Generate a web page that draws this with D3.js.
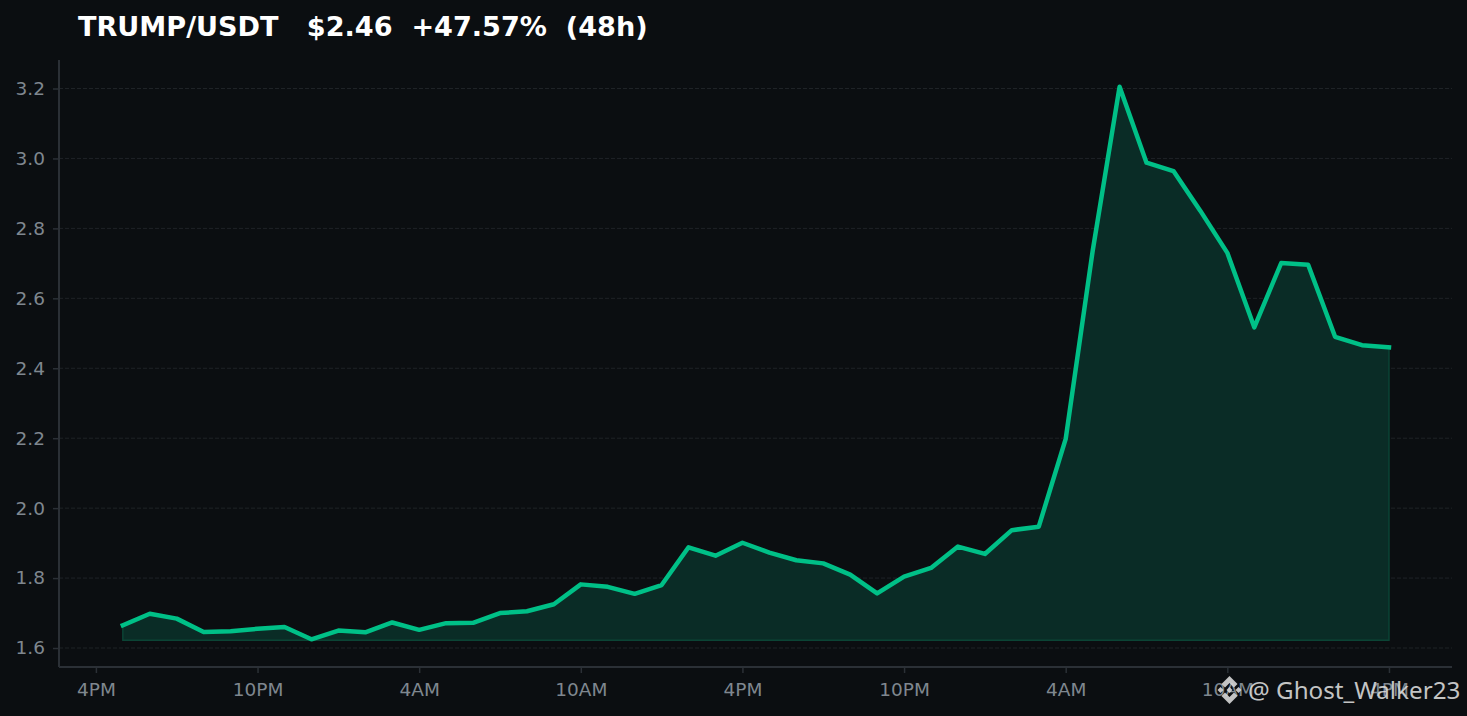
<!DOCTYPE html>
<html>
<head>
<meta charset="utf-8">
<script src="https://cdn.jsdelivr.net/npm/d3@7"></script>
<style>
html, body { margin: 0; padding: 0; background: #0b0e11; overflow: hidden; }
svg { display: block; font-family: "DejaVu Sans", sans-serif; }
</style>
</head>
<body>
<div id="chart"></div>
<script>
const width = 1467;
const height = 716;

const title = "TRUMP/USDT   $2.46  +47.57%  (48h)";
const watermark = "@ Ghost_Walker23";

// hours since the first 4PM tick
const hours = [1,2,3,4,5,6,7,8,9,10,11,12,13,14,15,16,17,18,19,20,21,22,23,24,
    25,26,27,28,29,30,31,32,33,34,35,36,37,38,39,40,41,42,43,44,45,46,47,48];
const prices = [1.665,1.698,1.684,1.646,1.648,1.655,1.660,1.625,1.650,1.645,1.673,1.652,
    1.671,1.672,1.700,1.705,1.725,1.782,1.775,1.755,1.780,1.888,1.864,1.901,
    1.873,1.851,1.842,1.810,1.756,1.804,1.829,1.890,1.869,1.937,1.947,2.198,
    2.735,3.205,2.988,2.964,2.850,2.730,2.517,2.701,2.696,2.490,2.466,2.460];
const baseline = 1.622;

const xTickHours = [0,6,12,18,24,30,36,42,48];
const xTickLabels = ["4PM","10PM","4AM","10AM","4PM","10PM","4AM","10AM","4PM"];
const yTicks = [1.6,1.8,2.0,2.2,2.4,2.6,2.8,3.0,3.2];

const plotLeft = 59, plotRight = 1452, plotTop = 60, plotBottom = 667;

const x = d3.scaleLinear().domain([-1.37, 50.34]).range([plotLeft, plotRight]);
const y = d3.scaleLinear().domain([1.5457, 3.2815]).range([plotBottom, plotTop]);

const svg = d3.select("#chart").append("svg")
    .attr("width", width)
    .attr("height", height)
    .attr("viewBox", `0 0 ${width} ${height}`);

svg.append("rect").attr("width", width).attr("height", height).attr("fill", "#0b0e11");

// grid
svg.append("g")
    .selectAll("line")
    .data(yTicks)
    .join("line")
    .attr("x1", plotLeft)
    .attr("x2", plotRight)
    .attr("y1", d => y(d))
    .attr("y2", d => y(d))
    .attr("stroke", "#1f2327")
    .attr("stroke-width", 1)
    .attr("stroke-dasharray", "4 2");

const points = hours.map((h, i) => [h, prices[i]]);

const area = d3.area()
    .x(d => x(d[0]))
    .y0(y(baseline))
    .y1(d => y(d[1]));

const line = d3.line()
    .x(d => x(d[0]))
    .y(d => y(d[1]));

svg.append("path")
    .attr("d", area(points))
    .attr("fill", "#0a2c26")
    .attr("stroke", "#0b4435")
    .attr("stroke-width", 1.5);

svg.append("path")
    .attr("d", line(points))
    .attr("fill", "none")
    .attr("stroke", "#00c087")
    .attr("stroke-width", 4.5)
    .attr("stroke-linejoin", "round")
    .attr("stroke-linecap", "square");

// axes
const xAxis = d3.axisBottom(x)
    .tickValues(xTickHours)
    .tickFormat((d, i) => xTickLabels[i])
    .tickSize(6)
    .tickPadding(10);

const yAxis = d3.axisLeft(y)
    .tickValues(yTicks)
    .tickFormat(d3.format(".1f"))
    .tickSize(6)
    .tickPadding(8);

const styleAxis = g => {
    g.selectAll("path, line").attr("stroke", "#2b3036").attr("stroke-width", 1.5);
    g.select(".domain").remove();
    g.selectAll("text").attr("fill", "#7f878f").attr("font-size", 18.5).attr("font-family", "DejaVu Sans");
};

svg.append("g").attr("transform", `translate(0,${plotBottom})`).call(xAxis).call(styleAxis);
svg.append("g").attr("transform", `translate(${plotLeft},0)`).call(yAxis).call(styleAxis);

svg.append("line").attr("x1", plotLeft).attr("x2", plotRight).attr("y1", plotBottom).attr("y2", plotBottom)
    .attr("stroke", "#2b3036").attr("stroke-width", 2);
svg.append("line").attr("x1", plotLeft).attr("x2", plotLeft).attr("y1", plotTop).attr("y2", plotBottom)
    .attr("stroke", "#2b3036").attr("stroke-width", 2);

svg.append("text")
    .attr("x", 78)
    .attr("y", 36)
    .attr("fill", "#ffffff")
    .attr("font-size", 27.1)
    .attr("font-weight", "bold")
    .style("white-space", "pre")
    .text(title);

// watermark
const logo = svg.append("g")
    .attr("transform", "translate(1229.5,690)")
    .attr("fill", "#d8d8d8")
    .attr("opacity", 0.9);
logo.selectAll("path")
    .data(["M0,-14 L8,-6 L4.5,-2.5 L0,-7 L-4.5,-2.5 L-8,-6 Z",
           "M0,14 L8,6 L4.5,2.5 L0,7 L-4.5,2.5 L-8,6 Z",
           "M-12,0 L-9,-3 L-6,0 L-9,3 Z",
           "M12,0 L9,-3 L6,0 L9,3 Z",
           "M0,-3 L3,0 L0,3 L-3,0 Z"])
    .join("path")
    .attr("d", d => d);

svg.append("text")
    .attr("x", 1248)
    .attr("y", 699)
    .attr("fill", "#d8d8d8")
    .attr("opacity", 0.9)
    .attr("font-size", 24.2)
    .attr("font-family", "Noto Sans")
    .text(watermark);
</script>
</body>
</html>
